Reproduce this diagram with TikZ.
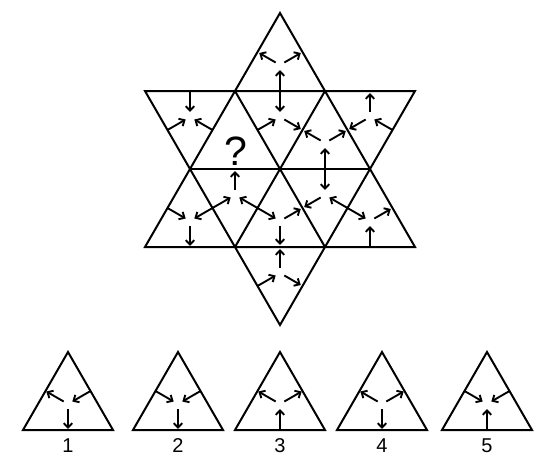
\documentclass[tikz,border=0pt]{standalone}
\usepackage{fontspec}
\setmainfont{Liberation Sans}
\usetikzlibrary{arrows.meta}
\newcommand{\cellarrows}[3]{%
  \foreach \ang/\rs/\re in {#3}{\draw[arw,shift={(#1,#2)}] (\ang:\rs) -- (\ang:\re);}%
}
\begin{document}
\begin{tikzpicture}[x=1pt,y=-1pt,
  edge/.style={line width=2pt, line join=miter},
  arw/.style={line width=1.9pt, -{Straight Barb[length=4.5pt,width=8.5pt]}},
  qmark/.style={font=\fontsize{41}{41}\selectfont, inner sep=0pt},
  num/.style={font=\fontsize{20}{20}\selectfont, inner sep=0pt}]
\useasboundingbox (0,0) rectangle (542,459);
% star outline points
\coordinate (A) at (280,13);
\coordinate (B) at (415,91);
\coordinate (C) at (415,247);
\coordinate (D) at (280,325);
\coordinate (E) at (145,247);
\coordinate (F) at (145,91);
% inner hexagon
\coordinate (H1) at (235,91);
\coordinate (H2) at (325,91);
\coordinate (H3) at (370,169);
\coordinate (H4) at (325,247);
\coordinate (H5) at (235,247);
\coordinate (H6) at (190,169);
\draw[edge] (A) -- (C) -- (E) -- cycle;
\draw[edge] (F) -- (B) -- (D) -- cycle;
\draw[edge] (H6) -- (H3);
\draw[edge] (H1) -- (H4);
\draw[edge] (H2) -- (H5);
% arrows in star cells (out: 5 -> 24, in: 26 -> 5)
\cellarrows{280}{65}{210/5/24,330/5/24,90/26/5}
\cellarrows{190}{117}{270/26/5,150/26/5,30/26/5}
\cellarrows{280}{117}{270/26/5,150/26/5,30/5/24}
\cellarrows{325}{143}{210/5/24,330/5/24,90/26/5}
\cellarrows{370}{117}{270/5/24,150/5/24,30/26/5}
\cellarrows{190}{221}{210/26/5,330/26/5,90/5/25}
\cellarrows{235}{195}{270/5/24,150/26/5,30/26/5}
\cellarrows{280}{221}{210/26/5,330/5/24,90/5/24}
\cellarrows{325}{195}{270/26/5,150/5/24,30/26/5}
\cellarrows{370}{221}{210/26/5,330/5/24,90/26/5}
\cellarrows{280}{273}{270/5/24,150/26/5,30/5/24}
\node[qmark] (q) at (236,151) {?};
% answer options
\foreach \x/\n in {68/1,178/2,280/3,382/4,487/5}{%
  \coordinate (o\n) at (\x,352);
  \draw[edge] (o\n) -- ++(45,78) -- ++(-90,0) -- cycle;
  \node[num] (l\n) at (\x,446) {\n};
}
\cellarrows{68}{404}{210/5/25,330/26/5,90/5/25}
\cellarrows{178}{404}{210/26/5,330/26/5,90/5/25}
\cellarrows{280}{404}{210/5/25,330/5/25,90/26/5}
\cellarrows{382}{404}{210/5/25,330/5/25,90/5/25}
\cellarrows{487}{404}{210/26/5,330/26/5,90/26/5}
\end{tikzpicture}
\end{document}
